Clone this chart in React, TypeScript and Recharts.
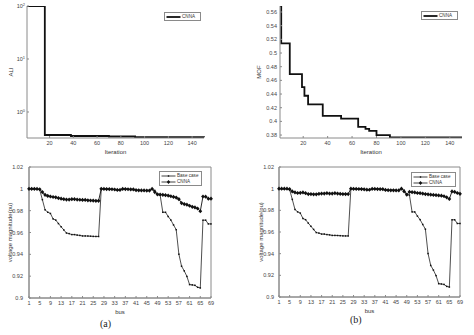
import React from "react";
import { LineChart, Line, XAxis, YAxis, Legend, ReferenceArea } from "recharts";

// (top-left) loss index vs iteration, log axis, breakpoints of the step curve
const lossIter = [1, 16, 38, 70, 92, 150];
const lossVal = [100, 0.368, 0.352, 0.345, 0.336, 0.333];

// (top-right) MOF vs iteration, breakpoints of the step curve
const mofIter = [1, 2, 9, 19, 21, 24, 36, 51, 65, 71, 74, 80, 91, 150];
const mofVal = [0.5688, 0.514, 0.469, 0.45, 0.4375, 0.425, 0.408, 0.404, 0.392, 0.389, 0.386, 0.38, 0.3765, 0.3765];

const iterTicks = [20, 40, 60, 80, 100, 120, 140];
const lossTicks = [1, 10, 100];
const mofTicks = [0.38, 0.4, 0.42, 0.44, 0.46, 0.48, 0.5, 0.52, 0.54, 0.56];

// bottom: voltage profile of the 69-bus system
const buses = Array.from({ length: 69 }, (_, i) => i + 1);
const baseCase = [
  1.0, 0.99997, 0.99993, 0.99984, 0.99902, 0.99009, 0.98079, 0.97858, 0.97745, 0.97245,
  0.97135, 0.96819, 0.96526, 0.96237, 0.9595, 0.95897, 0.95809, 0.95808, 0.95762, 0.95732,
  0.95684, 0.95683, 0.95676, 0.9566, 0.95643, 0.95636, 0.95634, 0.99993, 0.99985, 0.99973,
  0.99971, 0.99961, 0.99935, 0.99901, 0.99895, 0.99992, 0.99975, 0.99959, 0.99954, 0.99954,
  0.99884, 0.99855, 0.99851, 0.9985, 0.99841, 0.9984, 0.99979, 0.99854, 0.9947, 0.99415,
  0.97853, 0.97853, 0.97465, 0.97141, 0.96693, 0.96256, 0.94011, 0.92911, 0.92484, 0.91974,
  0.91228, 0.912, 0.91161, 0.90981, 0.90919, 0.97129, 0.97129, 0.96786, 0.96786,
];
const cnnaA = [
  1.0, 1.0, 1.0, 0.9999, 0.9996, 0.997, 0.9945, 0.9935, 0.993, 0.9925,
  0.9922, 0.9915, 0.991, 0.9905, 0.9902, 0.9902, 0.9905, 0.9905, 0.9902, 0.99,
  0.9898, 0.9898, 0.9895, 0.9893, 0.9892, 0.989, 0.989, 1.0, 0.9999, 0.9998,
  0.9997, 0.9996, 0.9994, 0.999, 0.999, 0.9999, 0.9998, 0.9996, 0.9995, 0.9995,
  0.9988, 0.9986, 0.9985, 0.9985, 0.9984, 0.9984, 0.9999, 0.997, 0.995, 0.9948,
  0.9945, 0.9942, 0.9938, 0.9932, 0.9926, 0.992, 0.9905, 0.987, 0.986, 0.9855,
  0.9845, 0.9835, 0.983, 0.982, 0.9795, 0.993, 0.9928, 0.991, 0.991,
];
const cnnaB = [
  1.0, 1.0, 1.0, 1.0, 0.9995, 0.9975, 0.9965, 0.996, 0.9962, 0.9965,
  0.9958, 0.995, 0.995, 0.9948, 0.9948, 0.9952, 0.9955, 0.9955, 0.9958, 0.9955,
  0.9955, 0.9958, 0.9955, 0.9952, 0.995, 0.995, 0.995, 1.0, 0.9999, 0.9998,
  0.9997, 0.9996, 0.9994, 0.9991, 0.999, 0.9999, 0.9998, 0.9996, 0.9995, 0.9995,
  0.9988, 0.9986, 0.9985, 0.9985, 0.9984, 0.9984, 1.0, 0.9975, 0.9945, 0.997,
  0.9968, 0.9965, 0.996, 0.9958, 0.9955, 0.995, 0.9948, 0.9945, 0.9942, 0.994,
  0.9938, 0.9935, 0.993, 0.992, 0.9905, 0.9975, 0.997, 0.996, 0.9952,
];
const busTicks = [1, 5, 9, 13, 17, 21, 25, 29, 33, 37, 41, 45, 49, 53, 57, 61, 65, 69];
const voltTicks = [0.9, 0.92, 0.94, 0.96, 0.98, 1, 1.02];

const lossData = lossIter.map((it, i) => ({ it, v: lossVal[i] }));
const mofData = mofIter.map((it, i) => ({ it, v: mofVal[i] }));
const voltA = buses.map((bus, i) => ({ bus, base: baseCase[i], cnna: cnnaA[i] }));
const voltB = buses.map((bus, i) => ({ bus, base: baseCase[i], cnna: cnnaB[i] }));

const FONT = "'Liberation Sans', Arial, sans-serif";
const frame = "#8a8a8a";
const tickFont = { fontSize: 5.5, fill: "#444", fontFamily: FONT };
const titleStyle = { fontSize: 6, fill: "#333", fontFamily: FONT };

const Diamond = (p: any) => {
  const { cx, cy, index } = p;
  if (cx == null || cy == null) return <g key={"d" + index} />;
  return <path key={"d" + index} d={`M${cx},${cy - 2.1}L${cx + 1.9},${cy}L${cx},${cy + 2.1}L${cx - 1.9},${cy}Z`} fill="#111" />;
};
const Square = (p: any) => {
  const { cx, cy, index } = p;
  if (cx == null || cy == null) return <g key={"s" + index} />;
  return <rect key={"s" + index} x={cx - 0.75} y={cy - 0.75} width={1.5} height={1.5} fill="#111" />;
};

const PowTick = (p: any) => {
  const { x, y, payload } = p;
  const exp = Math.round(Math.log10(payload.value));
  return (
    <text x={x} y={y} textAnchor="end" dominantBaseline="central" {...tickFont}>
      10<tspan dy={-2} fontSize={4}>{exp}</tspan>
    </text>
  );
};

const NumTick = (p: any) => {
  const { x, y, payload, textAnchor } = p;
  return (
    <text x={x} y={y} textAnchor={textAnchor} dominantBaseline="central" {...tickFont}>
      {String(payload.value)}
    </text>
  );
};

// rotated y-axis title placed at a given x inside the axis box
const yTitle = (value: string, atX: number) => (props: any) => {
  const vb = props.viewBox || {};
  const cy = (vb.y || 0) + (vb.height || 0) / 2;
  return (
    <text x={atX} y={cy} transform={`rotate(-90 ${atX} ${cy})`} textAnchor="middle" dominantBaseline="central" {...titleStyle}>
      {value}
    </text>
  );
};

function LegendBox({ rows, w }: { rows: { label: string; kind: "thick" | "base" | "cnna" }[]; w: number }) {
  return (
    <div style={{ border: `0.8px solid ${frame}`, background: "#fff", width: w, padding: "0.5px 1px", boxSizing: "border-box" }}>
      {rows.map((r) => (
        <div key={r.label} style={{ display: "flex", alignItems: "center", height: 6, fontSize: 4.6, fontFamily: FONT, color: "#333", lineHeight: "6px" }}>
          <svg width={15} height={6} style={{ marginRight: 1 }}>
            <line x1={0.5} y1={3} x2={14.5} y2={3} stroke="#111" strokeWidth={r.kind === "thick" ? 1.8 : 0.8} />
            {r.kind === "base" && <rect x={6.8} y={2.3} width={1.4} height={1.4} fill="#111" />}
            {r.kind === "cnna" && <path d="M7.5,1.1L9.2,3L7.5,4.9L5.8,3Z" fill="#111" />}
          </svg>
          {r.label}
        </div>
      ))}
    </div>
  );
}

function IterChart({ data, left, yW, right, log }: { data: any[]; left: number; yW: number; right: number; log: boolean }) {
  return (
    <div style={{ position: "absolute", left, top: 0 }}>
      <LineChart width={237} height={160} data={data} margin={{ top: 6, right, left: 0, bottom: 0 }}>
        <XAxis dataKey="it" type="number" domain={[1, 150]} ticks={iterTicks} height={22} stroke={frame}
          tickSize={-2} tickMargin={5.5} tick={tickFont} interval={0}
          label={{ value: "Iteration", position: "insideBottom", offset: 6, style: titleStyle }} />
        <XAxis xAxisId="top" orientation="top" dataKey="it" type="number" domain={[1, 150]} ticks={iterTicks} height={0}
          stroke={frame} tickSize={-2} tick={false} />
        {log ? (
          <YAxis type="number" scale="log" domain={[0.323, 100]} ticks={lossTicks} width={yW} stroke={frame}
            tickSize={-2} tickMargin={4} tick={<PowTick />} interval={0} allowDataOverflow
            label={{ content: yTitle("ALI", 11) }} />
        ) : (
          <YAxis type="number" domain={[0.3757, 0.5688]} ticks={mofTicks} width={yW} stroke={frame}
            tickSize={-2} tickMargin={5} tick={<NumTick />} interval={0} allowDataOverflow
            label={{ content: yTitle("MOF", 22) }} />
        )}
        {log ? (
          <YAxis yAxisId="r" orientation="right" type="number" scale="log" domain={[0.323, 100]} ticks={lossTicks}
            width={0} stroke={frame} tickSize={-2} tick={false} allowDataOverflow />
        ) : (
          <YAxis yAxisId="r" orientation="right" type="number" domain={[0.3757, 0.5688]} ticks={mofTicks}
            width={0} stroke={frame} tickSize={-2} tick={false} allowDataOverflow />
        )}
        <Legend verticalAlign="middle" layout="horizontal"
          wrapperStyle={{ position: "absolute", left: log ? 164 : 184, top: log ? 12 : 11, width: 37 }}
          content={() => <LegendBox w={37} rows={[{ label: "CNNA", kind: "thick" }]} />} />
        <Line type="stepAfter" dataKey="v" name="CNNA" stroke="#111" strokeWidth={1.8} dot={false} isAnimationActive={false} />
      </LineChart>
    </div>
  );
}

function VoltChart({ data, left, yW, right, plotH, tm, lx, lw, ly, titleX }: any) {
  const axisH = 175 - 7 - plotH;
  return (
    <div style={{ position: "absolute", left, top: 160 }}>
      <LineChart width={237} height={175} data={data} margin={{ top: 7, right, left: 0, bottom: 0 }}>
        <XAxis dataKey="bus" type="number" domain={[1, 69]} ticks={busTicks} height={axisH} stroke={frame}
          tickSize={-2} tickMargin={5.5} tick={tickFont} interval={0}
          label={{ value: "bus", position: "insideBottom", offset: axisH - 16, style: titleStyle }} />
        <YAxis type="number" domain={[0.9, 1.02]} ticks={voltTicks} width={yW} stroke={frame}
          tickSize={-2} tickMargin={tm} tick={<NumTick />} interval={0} allowDataOverflow
          label={{ content: yTitle("voltage magnitude(pu)", titleX) }} />
        {/* box around the plot area */}
        <ReferenceArea x1={1} x2={69} y1={0.9} y2={1.02} fill="none" stroke={frame} strokeWidth={1} ifOverflow="visible" />
        <Legend verticalAlign="middle" layout="horizontal"
          wrapperStyle={{ position: "absolute", left: lx, top: ly, width: lw }}
          content={() => <LegendBox w={lw} rows={[{ label: "Base case", kind: "base" }, { label: "CNNA", kind: "cnna" }]} />} />
        <Line type="linear" dataKey="base" name="Base case" stroke="#222" strokeWidth={0.8} dot={<Square />} isAnimationActive={false} />
        <Line type="linear" dataKey="cnna" name="CNNA" stroke="#111" strokeWidth={0.9} dot={<Diamond />} isAnimationActive={false} />
      </LineChart>
    </div>
  );
}

export default function App() {
  return (
    <div style={{ position: "absolute", left: 0, top: 0, width: 474, height: 335, background: "#fff", overflow: "hidden" }}>
      <IterChart data={lossData} left={0} yW={27} right={33} log={true} />
      <IterChart data={mofData} left={237} yW={43} right={12} log={false} />
      <VoltChart data={voltA} left={0} yW={29} right={26} plotH={131} tm={8} lx={159} lw={43} ly={11} titleX={10} />
      <VoltChart data={voltB} left={237} yW={42} right={14} plotH={130} tm={7} lx={174} lw={45} ly={12} titleX={24} />
      <div style={{ position: "absolute", left: 100, top: 318, fontFamily: "'Liberation Serif', serif", fontSize: 10, color: "#222" }}>(a)</div>
      <div style={{ position: "absolute", left: 350, top: 314, fontFamily: "'Liberation Serif', serif", fontSize: 10, color: "#222" }}>(b)</div>
    </div>
  );
}
